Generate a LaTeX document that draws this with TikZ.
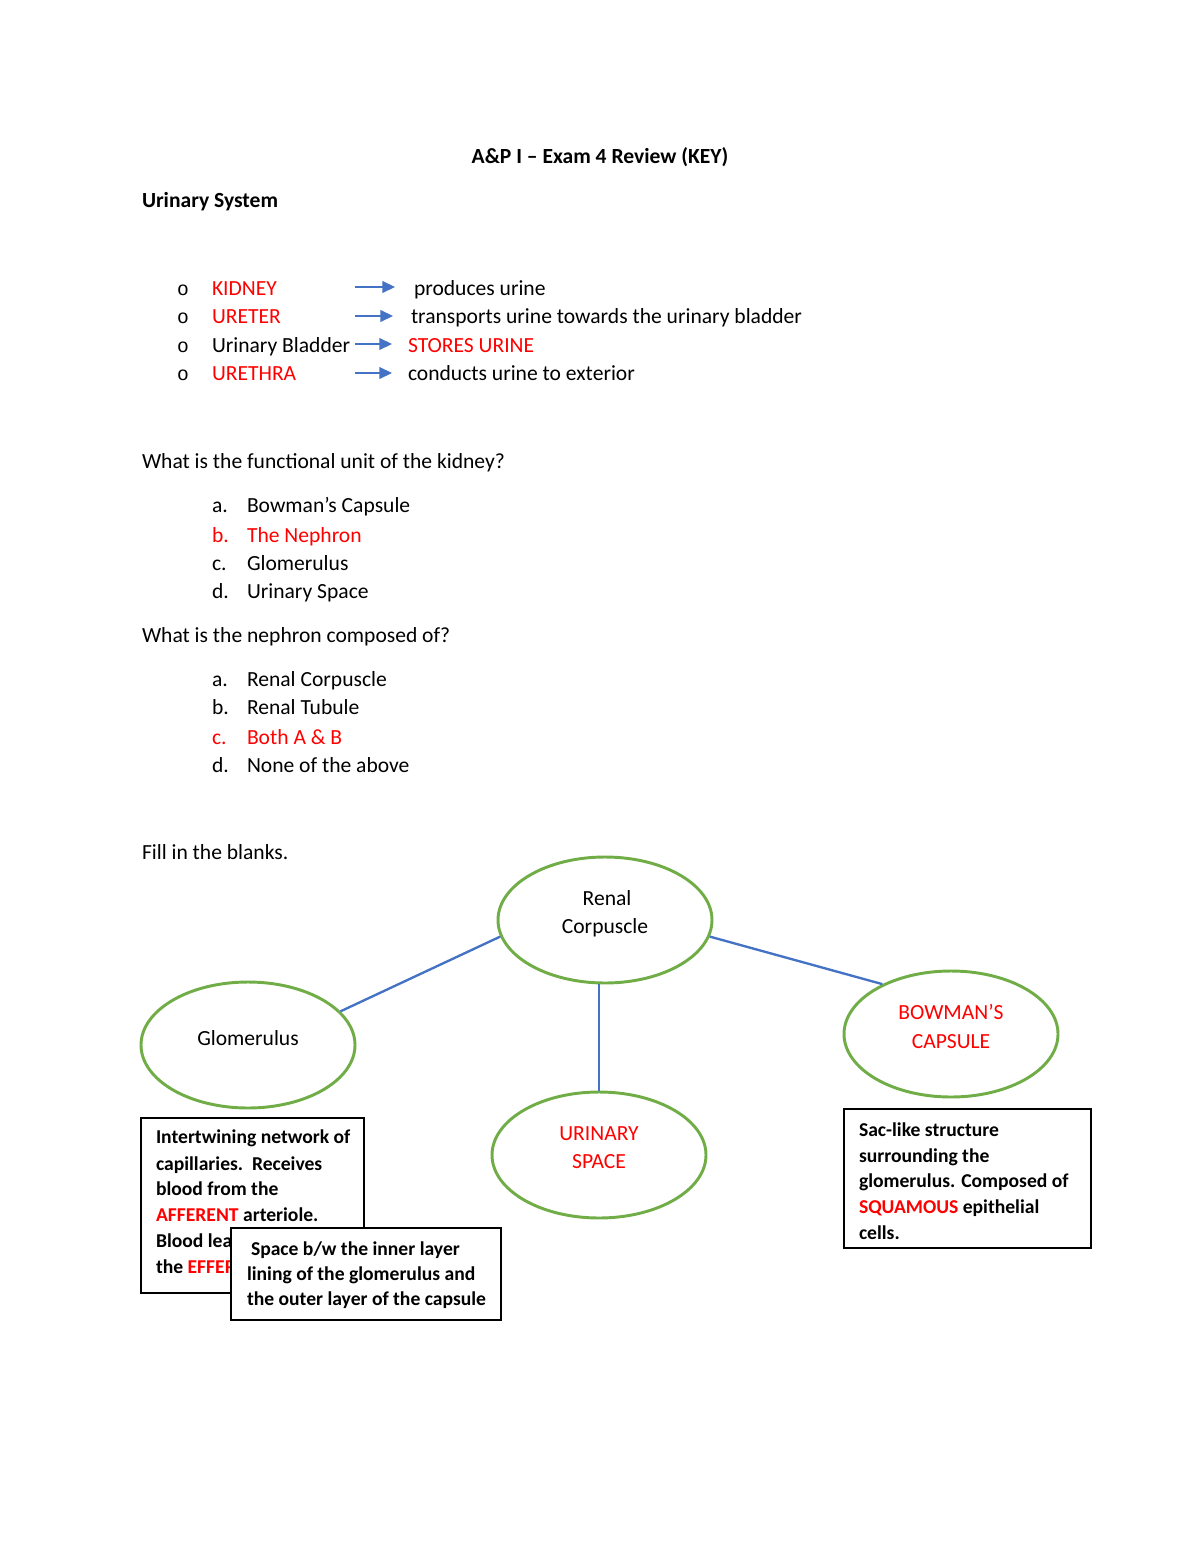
\documentclass[tikz,border=0pt]{standalone}
\usepackage{fontspec}
\setmainfont{Carlito}
\newfontfamily\monofont{Liberation Mono}
\usetikzlibrary{shapes.geometric,arrows.meta,fit}
\definecolor{kred}{HTML}{FF0000}
\definecolor{kblue}{HTML}{4472C4}
\definecolor{kgreen}{HTML}{70AD47}
\begin{document}
\begin{tikzpicture}[x=0.51pt,y=-0.51pt,
  every node/.style={font=\fontsize{11pt}{13pt}\selectfont},
  txt/.style={anchor=base west,inner sep=0pt,outer sep=0pt,yshift=-0.8pt},
  ctxt/.style={anchor=base,inner sep=0pt,outer sep=0pt,yshift=-0.8pt},
  btxt/.style={anchor=base west,inner sep=0pt,outer sep=0pt,yshift=-0.5pt,font=\fontsize{10pt}{12pt}\selectfont\bfseries},
  red/.style={text=kred},
  arr/.style={draw=kblue,line width=1pt,-{Triangle[length=6.5pt,width=6pt]}},
  ell/.style={draw=kgreen,line width=1.5pt,ellipse,minimum width={214*0.51pt},minimum height={126*0.51pt},inner sep=0pt},
  conn/.style={draw=kblue,line width=1.2pt},
  box/.style={draw=black,line width=1.4pt,inner sep=0pt,fill=white}]
\useasboundingbox (0,0) rectangle (1200,1553);

% header
\node[ctxt,font=\fontsize{11pt}{13pt}\selectfont\bfseries] (title) at (600,162) {A\&P I -- Exam 4 Review (KEY)};
\node[txt,font=\fontsize{11pt}{13pt}\selectfont\bfseries] (urisys) at (142,206) {Urinary System};

% list
\node[txt,font=\fontsize{10pt}{12pt}\monofont] (o1) at (177,294) {o};
\node[txt,font=\fontsize{10pt}{12pt}\monofont] (o2) at (177,322) {o};
\node[txt,font=\fontsize{10pt}{12pt}\monofont] (o3) at (177,351) {o};
\node[txt,font=\fontsize{10pt}{12pt}\monofont] (o4) at (177,379) {o};
\node[txt,red] (l1) at (212,294) {KIDNEY};
\node[txt,red] (l2) at (212,322) {URETER};
\node[txt] (l3) at (212,351) {Urinary Bladder};
\node[txt,red] (l4) at (212,379) {URETHRA};
\node[txt] (r1) at (414,294) {produces urine};
\node[txt] (r2) at (411,322) {transports urine towards the urinary bladder};
\node[txt,red] (r3) at (408,351) {STORES URINE};
\node[txt] (r4) at (408,379) {conducts urine to exterior};
\coordinate (a1s) at (355,287); \coordinate (a1e) at (395,287);
\coordinate (a2s) at (355,316); \coordinate (a2e) at (393,316);
\coordinate (a3s) at (355,344); \coordinate (a3e) at (392,344);
\coordinate (a4s) at (355,373); \coordinate (a4e) at (392,373);
\draw[arr] (a1s) -- (a1e);
\draw[arr] (a2s) -- (a2e);
\draw[arr] (a3s) -- (a3e);
\draw[arr] (a4s) -- (a4e);

% question 1
\node[txt] (q1) at (142,467) {What is the functional unit of the kidney?};
\node[txt] (q1a) at (212,511) {a.};
\node[txt] (q1at) at (247,511) {Bowman’s Capsule};
\node[txt,red] (q1b) at (212,541) {b.};
\node[txt,red] (q1bt) at (247,541) {The Nephron};
\node[txt] (q1c) at (212,569) {c.};
\node[txt] (q1ct) at (247,569) {Glomerulus};
\node[txt] (q1d) at (212,597) {d.};
\node[txt] (q1dt) at (247,597) {Urinary Space};

% question 2
\node[txt] (q2) at (142,641) {What is the nephron composed of?};
\node[txt] (q2a) at (212,685) {a.};
\node[txt] (q2at) at (247,685) {Renal Corpuscle};
\node[txt] (q2b) at (212,713) {b.};
\node[txt] (q2bt) at (247,713) {Renal Tubule};
\node[txt,red] (q2c) at (212,743) {c.};
\node[txt,red] (q2ct) at (247,743) {Both A \& B};
\node[txt] (q2d) at (212,771) {d.};
\node[txt] (q2dt) at (247,771) {None of the above};

\node[txt] (fill) at (142,858) {Fill in the blanks.};

% ellipses
\node[ell] (rc) at (605,920) {};
\node[ell] (gl) at (248,1045) {};
\node[ell] (us) at (599,1155) {};
\node[ell] (bc) at (951,1034) {};
\node[ctxt] (rct1) at (607,904) {Renal};
\node[ctxt] (rct2) at (605,932) {Corpuscle};
\node[ctxt] (glt) at (248,1044) {Glomerulus};
\node[ctxt,red] (ust1) at (599,1139) {URINARY};
\node[ctxt,red] (ust2) at (599,1167) {SPACE};
\node[ctxt,red] (bct1) at (951,1018) {BOWMAN’S};
\node[ctxt,red] (bct2) at (951,1047) {CAPSULE};

% connectors
\draw[conn] (rc.189) -- (gl.20);
\draw[conn] (rc.south -| us.north) -- (us.north);
\draw[conn] (rc.351) -- (bc.144);

% box 1
\node[box,fit={(141,1118) (364,1293)}] (box1) {};
\node[btxt] (b1l1) at (156,1143) {Intertwining network of};
\node[btxt] (b1l2) at (156,1170) {capillaries.\ \ Receives};
\node[btxt] (b1l3) at (156,1195) {blood from the};
\node[btxt] (b1l4) at (156,1221) {\textcolor{kred}{AFFERENT} arteriole.};
\node[btxt] (b1l5) at (156,1247) {Blood lea};
\node[btxt] (b1l6) at (156,1273) {the \textcolor{kred}{EFFER}};

% box 2
\node[box,fit={(231,1228) (501,1320)}] (box2) {};
\node[btxt] (b2l1) at (251,1255) {Space b/w the inner layer};
\node[btxt] (b2l2) at (247,1280) {lining of the glomerulus and};
\node[btxt] (b2l3) at (247,1305) {the outer layer of the capsule};

% box 3
\node[box,fit={(844,1109) (1091,1248)}] (box3) {};
\node[btxt] (b3l1) at (859,1136) {Sac-like structure};
\node[btxt] (b3l2) at (859,1162) {surrounding the};
\node[btxt] (b3l3) at (859,1187) {glomerulus. Composed of};
\node[btxt] (b3l4) at (859,1213) {\textcolor{kred}{SQUAMOUS} epithelial};
\node[btxt] (b3l5) at (859,1239) {cells.};
\end{tikzpicture}
\end{document}
